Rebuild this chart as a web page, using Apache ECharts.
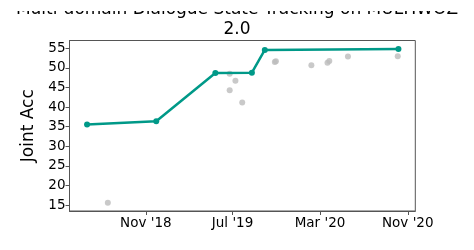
<!DOCTYPE html>
<html>
<head>
<meta charset="utf-8">
<script src="https://cdn.jsdelivr.net/npm/echarts@6/dist/echarts.min.js"></script>
<style>html,body{margin:0;padding:0;background:#fff;}#c{width:474px;height:250px;}</style>
</head>
<body>
<div id="c"></div>
<script>
// Data
var titleText = 'Multi-domain Dialogue State Tracking on MULTIWOZ\n2.0';
var yAxisName = 'Joint Acc';
var sotaDates = ['2018-05-21', '2018-11-30', '2019-05-14', '2019-08-24', '2019-09-29', '2020-10-06'];
var sotaValues = [35.6, 36.4, 48.7, 48.8, 54.6, 54.8];
var otherDates = ['2018-07-18', '2019-06-23', '2019-07-09', '2019-06-23', '2019-07-28', '2019-10-27', '2019-10-30', '2020-02-06', '2020-03-22', '2020-03-27', '2020-05-18', '2020-10-04'];
var otherValues = [15.6, 48.5, 46.7, 44.3, 41.2, 51.5, 51.7, 50.7, 51.3, 51.8, 52.9, 53.0];
var xTickDates = ['2018-11-01', '2019-07-01', '2020-03-01', '2020-11-01'];
var xTickLabels = ["Nov '18", "Jul '19", "Mar '20", "Nov '20"];
var yTicks = [15, 20, 25, 30, 35, 40, 45, 50, 55];
var xMinDate = '2018-04-02', xMaxDate = '2020-11-22';
var yMin = 13.5, yMax = 57.0;

function ts(d) { return Date.parse(d + 'T00:00:00Z'); }
var xTickVals = xTickDates.map(ts);
var labelMap = {};
xTickVals.forEach(function (v, i) { labelMap[v] = xTickLabels[i]; });

var chart = echarts.init(document.getElementById('c'), null, { renderer: 'canvas' });
var font = 'DejaVu Sans';
chart.setOption({
  animation: false,
  backgroundColor: '#ffffff',
  title: {
    text: titleText,
    left: 'center',
    top: 0,
    padding: 0,
    textStyle: { fontFamily: font, fontSize: 17, fontWeight: 'normal', color: '#000', lineHeight: 20, align: 'center' }
  },
  graphic: [{
    type: 'rect', left: 0, top: 0, z: 100,
    shape: { width: 474, height: 11 },
    style: { fill: '#ffffff' }
  }],
  grid: {
    left: 69.5, right: 58.7, top: 40.5, bottom: 39,
    show: true, borderColor: '#555555', borderWidth: 1, backgroundColor: 'transparent'
  },
  xAxis: {
    type: 'value',
    min: ts(xMinDate), max: ts(xMaxDate),
    axisLine: { show: true, lineStyle: { color: '#555555', width: 1 } },
    axisTick: { show: true, length: 4, customValues: xTickVals, lineStyle: { color: '#555555' } },
    axisLabel: {
      customValues: xTickVals, margin: 5,
      fontFamily: font, fontSize: 13.5, color: '#000',
      formatter: function (v) { return labelMap[v] || ''; }
    },
    splitLine: { show: false }
  },
  yAxis: {
    type: 'value',
    min: yMin, max: yMax,
    name: yAxisName, nameLocation: 'middle', nameGap: 22,
    nameTextStyle: { fontFamily: font, fontSize: 17, color: '#000' },
    axisLine: { show: true, lineStyle: { color: '#555555', width: 1 } },
    axisTick: { show: true, length: 4, customValues: yTicks, lineStyle: { color: '#555555' } },
    axisLabel: { customValues: yTicks, margin: 4, fontFamily: font, fontSize: 13.5, color: '#000' },
    splitLine: { show: false }
  },
  series: [{
    type: 'scatter',
    data: otherDates.map(function (d, i) { return [ts(d), otherValues[i]]; }),
    symbolSize: 6,
    itemStyle: { color: '#bbbbbb' },
    z: 1
  }, {
    type: 'line',
    data: sotaDates.map(function (d, i) { return [ts(d), sotaValues[i]]; }),
    symbol: 'circle', symbolSize: 6,
    lineStyle: { color: '#009988', width: 2.5 },
    itemStyle: { color: '#009988' },
    z: 3
  }]
});
</script>
</body>
</html>
